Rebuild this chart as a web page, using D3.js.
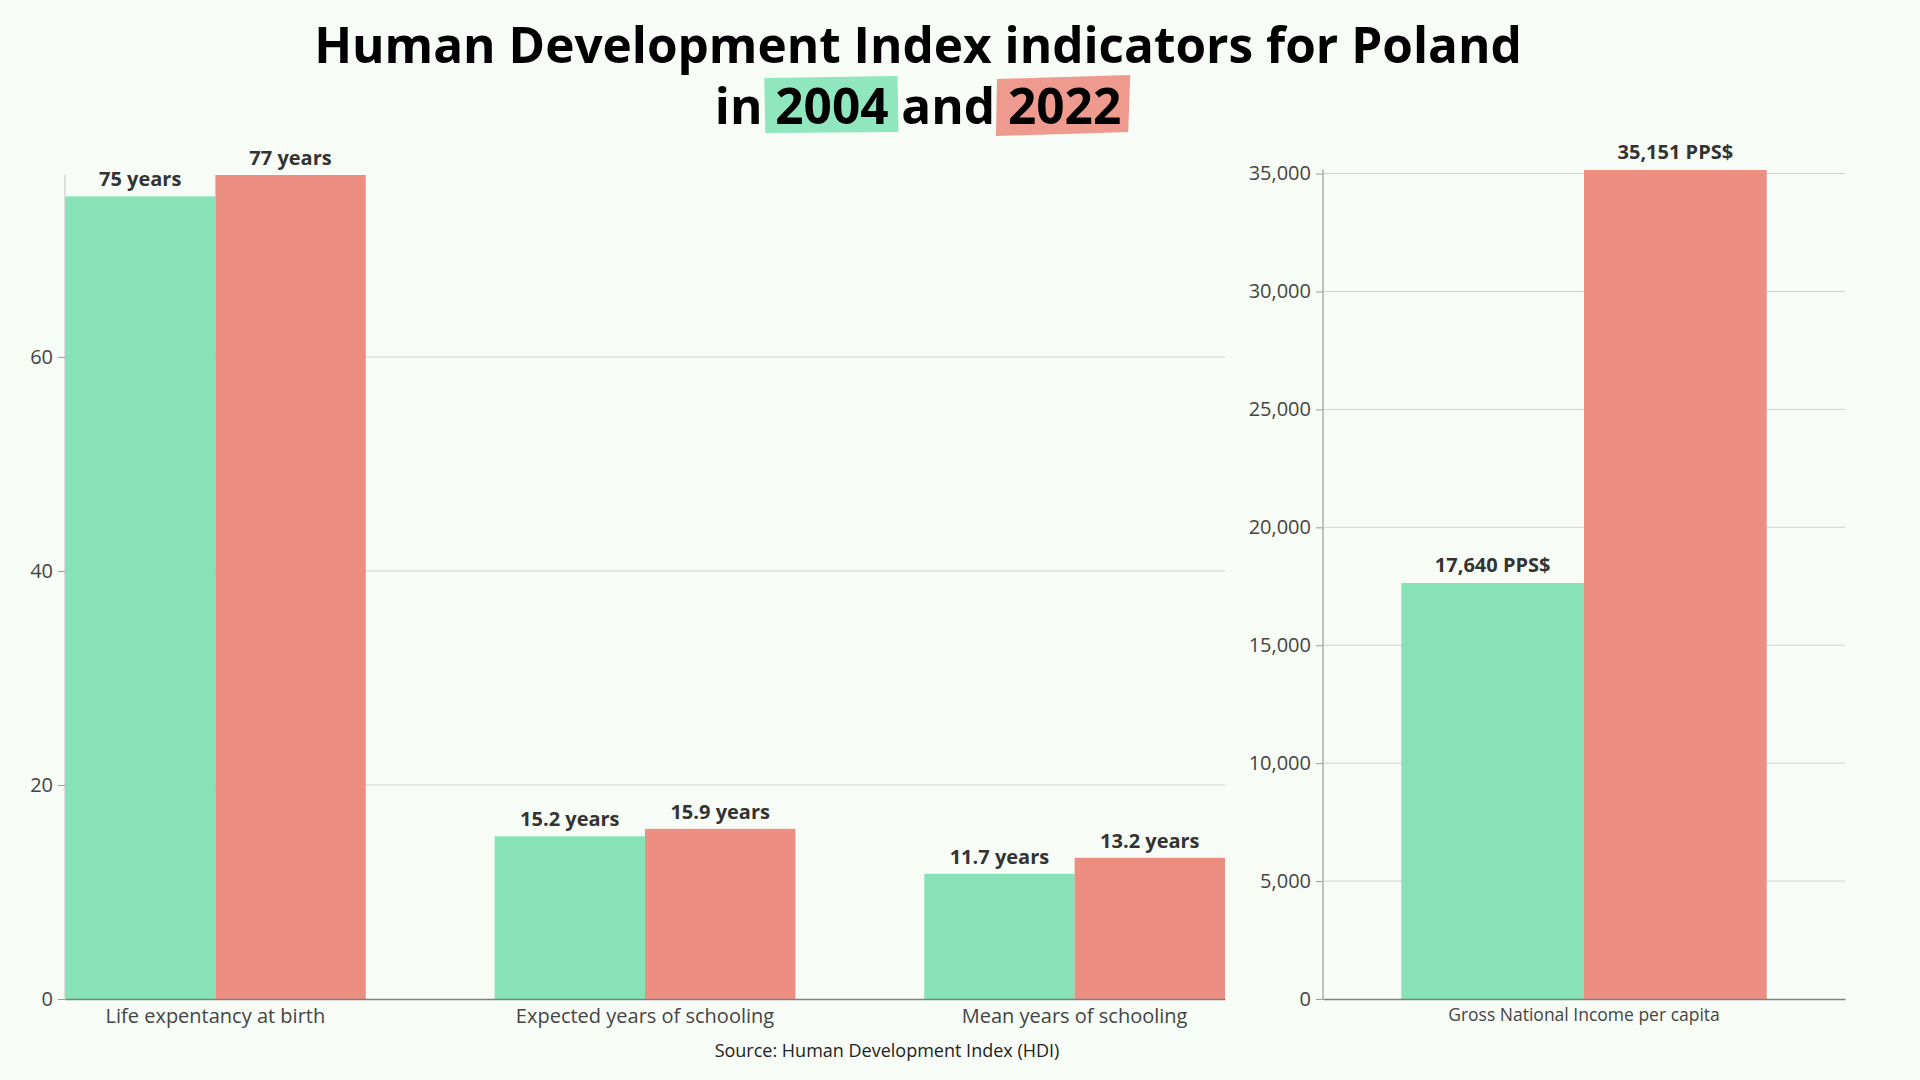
<!DOCTYPE html>
<html>
<head>
<meta charset="utf-8">
<script src="https://cdn.jsdelivr.net/npm/d3@7"></script>
<style>
  html, body { margin: 0; padding: 0; background: #f7fdf6; }
  svg { display: block; }
  text { font-family: "Open Sans", sans-serif; }
</style>
</head>
<body>
<svg id="chart" width="1920" height="1080"></svg>
<script>
// ---- data ----
const categories = ["Life expentancy at birth", "Expected years of schooling", "Mean years of schooling"];
const years = ["2004", "2022"];
const values2004 = [75, 15.2, 11.7];
const values2022 = [77, 15.9, 13.2];
const valueLabels2004 = ["75 years", "15.2 years", "11.7 years"];
const valueLabels2022 = ["77 years", "15.9 years", "13.2 years"];
const leftTicks = [0, 20, 40, 60];

const gniCategory = ["Gross National Income per capita"];
const gni2004 = [17640];
const gni2022 = [35151];
const gniLabels2004 = ["17,640 PPS$"];
const gniLabels2022 = ["35,151 PPS$"];
const rightTicks = [0, 5000, 10000, 15000, 20000, 25000, 30000, 35000];

const titleLine1 = "Human Development Index indicators for Poland";
const titleLine2 = "in 2004 and 2022";
const sourceText = "Source: Human Development Index (HDI)";

// ---- styles ----
const colors = { "2004": "#88e2b8", "2022": "#ed8e83" };
const hlColors = { "2004": "#8fe6bf", "2022": "#ef9a8e" };
const svg = d3.select("#chart");

svg.append("rect").attr("width", 1920).attr("height", 1080).attr("fill", "#f7fdf6");

// ---- left chart ----
const L = { left: 65, right: 1225, top: 175, bottom: 999 };
const xL = d3.scaleBand().domain(categories).range([L.left, L.right]).paddingInner(0.3).paddingOuter(0);
const xLs = d3.scaleBand().domain(years).range([0, xL.bandwidth()]).padding(0);
const yL = d3.scaleLinear().domain([0, d3.max(values2022.concat(values2004))]).range([L.bottom, L.top]);

const leftData = categories.map((c, i) => ({
  cat: c,
  bars: [
    { year: "2004", v: values2004[i], label: valueLabels2004[i] },
    { year: "2022", v: values2022[i], label: valueLabels2022[i] }
  ]
}));

// gridlines
svg.append("g").selectAll("line").data(leftTicks.filter(t => t > 0)).join("line")
  .attr("x1", L.left).attr("x2", L.right)
  .attr("y1", d => yL(d)).attr("y2", d => yL(d))
  .attr("stroke", "#cfd3cf").attr("stroke-width", 1);

// bars
const gL = svg.append("g").selectAll("g").data(leftData).join("g")
  .attr("transform", d => `translate(${xL(d.cat)},0)`);
gL.selectAll("rect").data(d => d.bars).join("rect")
  .attr("x", d => xLs(d.year)).attr("width", xLs.bandwidth())
  .attr("y", d => yL(d.v)).attr("height", d => yL(0) - yL(d.v))
  .attr("fill", d => colors[d.year]);
gL.selectAll("text").data(d => d.bars).join("text")
  .attr("x", d => xLs(d.year) + xLs.bandwidth() / 2)
  .attr("y", d => yL(d.v) - 10)
  .attr("text-anchor", "middle")
  .attr("font-size", 20).attr("font-weight", 700).attr("fill", "#333")
  .text(d => d.label);

// y axis left
const axL = svg.append("g").attr("transform", `translate(${L.left},0)`)
  .call(d3.axisLeft(yL).tickValues(leftTicks).tickSize(7).tickPadding(5).tickFormat(d3.format("d")));
axL.select(".domain").attr("stroke", "#bfc3bf").attr("d", `M0,${L.top}V${L.bottom}`);
axL.selectAll(".tick line").attr("stroke", "#9a9e9a");
axL.selectAll(".tick text").attr("font-size", 20).attr("fill", "#444").attr("font-family", "Open Sans");

// x axis left
const axLb = svg.append("g").attr("transform", `translate(0,${L.bottom})`)
  .call(d3.axisBottom(xL).tickSize(0).tickPadding(10));
axLb.select(".domain").attr("stroke", "#7d807d").attr("stroke-width", 1.5);
axLb.selectAll(".tick text").attr("font-size", 20).attr("fill", "#444").attr("font-family", "Open Sans");

// ---- right chart ----
const R = { left: 1323, right: 1845, top: 170, bottom: 999 };
const xR = d3.scaleBand().domain(gniCategory).range([R.left, R.right]).paddingInner(0.3).paddingOuter(0.15);
const xRs = d3.scaleBand().domain(years).range([0, xR.bandwidth()]).padding(0);
const yR = d3.scaleLinear().domain([0, d3.max(gni2022.concat(gni2004))]).range([R.bottom, R.top]);

svg.append("g").selectAll("line").data(rightTicks.filter(t => t > 0)).join("line")
  .attr("x1", R.left).attr("x2", R.right)
  .attr("y1", d => yR(d)).attr("y2", d => yR(d))
  .attr("stroke", "#cfd3cf").attr("stroke-width", 1);

const rightData = gniCategory.map((c, i) => ({
  cat: c,
  bars: [
    { year: "2004", v: gni2004[i], label: gniLabels2004[i] },
    { year: "2022", v: gni2022[i], label: gniLabels2022[i] }
  ]
}));
const gR = svg.append("g").selectAll("g").data(rightData).join("g")
  .attr("transform", d => `translate(${xR(d.cat)},0)`);
gR.selectAll("rect").data(d => d.bars).join("rect")
  .attr("x", d => xRs(d.year)).attr("width", xRs.bandwidth())
  .attr("y", d => yR(d.v)).attr("height", d => yR(0) - yR(d.v))
  .attr("fill", d => colors[d.year]);
gR.selectAll("text").data(d => d.bars).join("text")
  .attr("x", d => xRs(d.year) + xRs.bandwidth() / 2)
  .attr("y", d => yR(d.v) - 11)
  .attr("text-anchor", "middle")
  .attr("font-size", 20).attr("font-weight", 700).attr("fill", "#333")
  .text(d => d.label);

const axR = svg.append("g").attr("transform", `translate(${R.left},0)`)
  .call(d3.axisLeft(yR).tickValues(rightTicks).tickSize(7).tickPadding(5).tickFormat(d3.format(",")));
axR.select(".domain").attr("stroke", "#bfc3bf").attr("stroke-width", 2).attr("d", `M0,${yR(35000) - 4}V${R.bottom}`);
axR.selectAll(".tick line").attr("stroke", "#9a9e9a");
axR.selectAll(".tick text").attr("font-size", 20).attr("fill", "#444").attr("font-family", "Open Sans");

const axRb = svg.append("g").attr("transform", `translate(0,${R.bottom})`)
  .call(d3.axisBottom(xR).tickSize(0).tickPadding(10));
axRb.select(".domain").attr("stroke", "#7d807d").attr("stroke-width", 1.5);
axRb.selectAll(".tick text").attr("font-size", 17.5).attr("fill", "#444").attr("font-family", "Open Sans");

// ---- title ----
const titleX = 918;
svg.append("text").attr("x", titleX).attr("y", 63).attr("text-anchor", "middle")
  .attr("font-size", 49.5).attr("font-weight", 700).attr("fill", "#000")
  .text(titleLine1);
const hlLayer = svg.append("g");
const t2 = svg.append("text").attr("x", titleX).attr("y", 124).attr("text-anchor", "middle")
  .attr("font-size", 49.5).attr("font-weight", 700).attr("fill", "#000")
  .text(titleLine2);
const t2node = t2.node();
years.forEach((yr, k) => {
  const idx = titleLine2.indexOf(yr);
  const x0 = t2node.getStartPositionOfChar(idx).x;
  const x1 = t2node.getEndPositionOfChar(idx + yr.length - 1).x;
  const l = x0 - 11, r = x1 + 9, top = 77, bot = 133;
  const pts = k === 0
    ? [[l, top + 1], [r, top - 1], [r + 1, bot - 1], [l + 1, bot]]
    : [[l, top + 2], [r, top - 2], [r - 2, bot - 1], [l - 1, bot + 3]];
  hlLayer.append("path")
    .attr("d", d3.line()(pts) + "Z")
    .attr("fill", hlColors[yr]);
});

// ---- source ----
svg.append("text").attr("x", 887).attr("y", 1057).attr("text-anchor", "middle")
  .attr("font-size", 18).attr("fill", "#222")
  .text(sourceText);
</script>
</body>
</html>
